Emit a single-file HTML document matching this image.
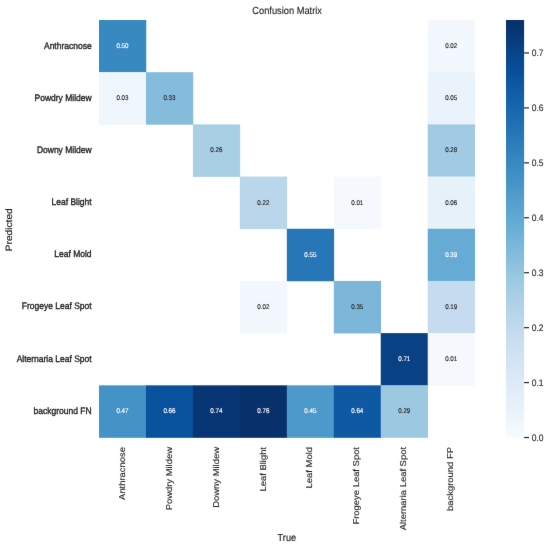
<!DOCTYPE html>
<html><head><meta charset="utf-8"><title>Confusion Matrix</title>
<style>html,body{margin:0;padding:0;background:#fff;}body{width:550px;height:549px;overflow:hidden;}svg{display:block;}</style></head>
<body>
<svg width="550" height="549" viewBox="0 0 550 549" font-family="'Liberation Sans', Arial, sans-serif" fill="#262626" stroke="#262626" stroke-width="0.38" stroke-linejoin="round" text-rendering="geometricPrecision">
<defs><linearGradient id="cb" x1="0" y1="1" x2="0" y2="0">
<stop offset="0.0000" stop-color="#f7fbff"/>
<stop offset="0.0312" stop-color="#f1f7fd"/>
<stop offset="0.0625" stop-color="#eaf3fb"/>
<stop offset="0.0938" stop-color="#e4eff9"/>
<stop offset="0.1250" stop-color="#deebf7"/>
<stop offset="0.1562" stop-color="#d8e7f5"/>
<stop offset="0.1875" stop-color="#d2e3f3"/>
<stop offset="0.2188" stop-color="#ccdff1"/>
<stop offset="0.2500" stop-color="#c6dbef"/>
<stop offset="0.2812" stop-color="#bcd7eb"/>
<stop offset="0.3125" stop-color="#b2d2e8"/>
<stop offset="0.3438" stop-color="#a8cee4"/>
<stop offset="0.3750" stop-color="#9dcae1"/>
<stop offset="0.4062" stop-color="#91c3de"/>
<stop offset="0.4375" stop-color="#84bcdb"/>
<stop offset="0.4688" stop-color="#77b5d9"/>
<stop offset="0.5000" stop-color="#6aaed6"/>
<stop offset="0.5312" stop-color="#60a7d2"/>
<stop offset="0.5625" stop-color="#56a0ce"/>
<stop offset="0.5938" stop-color="#4b98ca"/>
<stop offset="0.6250" stop-color="#4191c6"/>
<stop offset="0.6562" stop-color="#3989c1"/>
<stop offset="0.6875" stop-color="#3181bd"/>
<stop offset="0.7188" stop-color="#2979b9"/>
<stop offset="0.7500" stop-color="#2070b4"/>
<stop offset="0.7812" stop-color="#1a68ae"/>
<stop offset="0.8125" stop-color="#1460a8"/>
<stop offset="0.8438" stop-color="#0e58a2"/>
<stop offset="0.8750" stop-color="#08509b"/>
<stop offset="0.9062" stop-color="#08488e"/>
<stop offset="0.9375" stop-color="#084082"/>
<stop offset="0.9688" stop-color="#083776"/>
<stop offset="1.0000" stop-color="#08306b"/>
</linearGradient>
<filter id="soft" x="0" y="0" width="550" height="549" filterUnits="userSpaceOnUse" primitiveUnits="userSpaceOnUse" color-interpolation-filters="sRGB"><feConvolveMatrix order="3" kernelMatrix="0.00276 0.04704 0.00276 0.04704 0.80077 0.04704 0.00276 0.04704 0.00276" edgeMode="duplicate" preserveAlpha="true"/></filter></defs>
<g filter="url(#soft)">
<rect stroke="none" x="0" y="0" width="550" height="549" fill="#ffffff"/>
<rect stroke="none" x="99.00" y="20.00" width="47.26" height="52.49" fill="#3989c1"/>
<rect stroke="none" x="427.72" y="20.00" width="47.26" height="52.49" fill="#f2f8fd"/>
<rect stroke="none" x="99.00" y="72.19" width="47.26" height="52.49" fill="#eff6fc"/>
<rect stroke="none" x="145.96" y="72.19" width="47.26" height="52.49" fill="#85bcdc"/>
<rect stroke="none" x="427.72" y="72.19" width="47.26" height="52.49" fill="#eaf3fb"/>
<rect stroke="none" x="192.92" y="124.38" width="47.26" height="52.49" fill="#a9cfe5"/>
<rect stroke="none" x="427.72" y="124.38" width="47.26" height="52.49" fill="#a0cbe2"/>
<rect stroke="none" x="239.88" y="176.57" width="47.26" height="52.49" fill="#b9d6ea"/>
<rect stroke="none" x="333.80" y="176.57" width="47.26" height="52.49" fill="#f5f9fe"/>
<rect stroke="none" x="427.72" y="176.57" width="47.26" height="52.49" fill="#e7f1fa"/>
<rect stroke="none" x="286.84" y="228.76" width="47.26" height="52.49" fill="#2777b8"/>
<rect stroke="none" x="427.72" y="228.76" width="47.26" height="52.49" fill="#66abd4"/>
<rect stroke="none" x="239.88" y="280.95" width="47.26" height="52.49" fill="#f2f8fd"/>
<rect stroke="none" x="333.80" y="280.95" width="47.26" height="52.49" fill="#7cb7da"/>
<rect stroke="none" x="427.72" y="280.95" width="47.26" height="52.49" fill="#c6dbef"/>
<rect stroke="none" x="380.76" y="333.14" width="47.26" height="52.49" fill="#084184"/>
<rect stroke="none" x="427.72" y="333.14" width="47.26" height="52.49" fill="#f5f9fe"/>
<rect stroke="none" x="99.00" y="385.33" width="47.26" height="52.49" fill="#4493c7"/>
<rect stroke="none" x="145.96" y="385.33" width="47.26" height="52.49" fill="#09529d"/>
<rect stroke="none" x="192.92" y="385.33" width="47.26" height="52.49" fill="#083674"/>
<rect stroke="none" x="239.88" y="385.33" width="47.26" height="52.49" fill="#08306b"/>
<rect stroke="none" x="286.84" y="385.33" width="47.26" height="52.49" fill="#4d99ca"/>
<rect stroke="none" x="333.80" y="385.33" width="47.26" height="52.49" fill="#0e59a2"/>
<rect stroke="none" x="380.76" y="385.33" width="47.26" height="52.49" fill="#9cc9e1"/>
<text transform="translate(122.48,48.10) scale(0.900,1)" font-size="6.90" text-anchor="middle" fill="#ffffff" stroke="#ffffff" stroke-width="0.15">0.50</text>
<text transform="translate(451.20,48.10) scale(0.900,1)" font-size="6.90" text-anchor="middle" fill="#262626" stroke="#262626" stroke-width="0.15">0.02</text>
<text transform="translate(122.48,100.29) scale(0.900,1)" font-size="6.90" text-anchor="middle" fill="#262626" stroke="#262626" stroke-width="0.15">0.03</text>
<text transform="translate(169.44,100.29) scale(0.900,1)" font-size="6.90" text-anchor="middle" fill="#262626" stroke="#262626" stroke-width="0.15">0.33</text>
<text transform="translate(451.20,100.29) scale(0.900,1)" font-size="6.90" text-anchor="middle" fill="#262626" stroke="#262626" stroke-width="0.15">0.05</text>
<text transform="translate(216.40,152.48) scale(0.900,1)" font-size="6.90" text-anchor="middle" fill="#262626" stroke="#262626" stroke-width="0.15">0.26</text>
<text transform="translate(451.20,152.48) scale(0.900,1)" font-size="6.90" text-anchor="middle" fill="#262626" stroke="#262626" stroke-width="0.15">0.28</text>
<text transform="translate(263.36,204.67) scale(0.900,1)" font-size="6.90" text-anchor="middle" fill="#262626" stroke="#262626" stroke-width="0.15">0.22</text>
<text transform="translate(357.28,204.67) scale(0.900,1)" font-size="6.90" text-anchor="middle" fill="#262626" stroke="#262626" stroke-width="0.15">0.01</text>
<text transform="translate(451.20,204.67) scale(0.900,1)" font-size="6.90" text-anchor="middle" fill="#262626" stroke="#262626" stroke-width="0.15">0.06</text>
<text transform="translate(310.32,256.86) scale(0.900,1)" font-size="6.90" text-anchor="middle" fill="#ffffff" stroke="#ffffff" stroke-width="0.15">0.55</text>
<text transform="translate(451.20,256.86) scale(0.900,1)" font-size="6.90" text-anchor="middle" fill="#ffffff" stroke="#ffffff" stroke-width="0.15">0.39</text>
<text transform="translate(263.36,309.05) scale(0.900,1)" font-size="6.90" text-anchor="middle" fill="#262626" stroke="#262626" stroke-width="0.15">0.02</text>
<text transform="translate(357.28,309.05) scale(0.900,1)" font-size="6.90" text-anchor="middle" fill="#262626" stroke="#262626" stroke-width="0.15">0.35</text>
<text transform="translate(451.20,309.05) scale(0.900,1)" font-size="6.90" text-anchor="middle" fill="#262626" stroke="#262626" stroke-width="0.15">0.19</text>
<text transform="translate(404.24,361.24) scale(0.900,1)" font-size="6.90" text-anchor="middle" fill="#ffffff" stroke="#ffffff" stroke-width="0.15">0.71</text>
<text transform="translate(451.20,361.24) scale(0.900,1)" font-size="6.90" text-anchor="middle" fill="#262626" stroke="#262626" stroke-width="0.15">0.01</text>
<text transform="translate(122.48,413.43) scale(0.900,1)" font-size="6.90" text-anchor="middle" fill="#ffffff" stroke="#ffffff" stroke-width="0.15">0.47</text>
<text transform="translate(169.44,413.43) scale(0.900,1)" font-size="6.90" text-anchor="middle" fill="#ffffff" stroke="#ffffff" stroke-width="0.15">0.66</text>
<text transform="translate(216.40,413.43) scale(0.900,1)" font-size="6.90" text-anchor="middle" fill="#ffffff" stroke="#ffffff" stroke-width="0.15">0.74</text>
<text transform="translate(263.36,413.43) scale(0.900,1)" font-size="6.90" text-anchor="middle" fill="#ffffff" stroke="#ffffff" stroke-width="0.15">0.76</text>
<text transform="translate(310.32,413.43) scale(0.900,1)" font-size="6.90" text-anchor="middle" fill="#ffffff" stroke="#ffffff" stroke-width="0.15">0.45</text>
<text transform="translate(357.28,413.43) scale(0.900,1)" font-size="6.90" text-anchor="middle" fill="#ffffff" stroke="#ffffff" stroke-width="0.15">0.64</text>
<text transform="translate(404.24,413.43) scale(0.900,1)" font-size="6.90" text-anchor="middle" fill="#262626" stroke="#262626" stroke-width="0.15">0.29</text>
<text transform="translate(91.60,48.50) scale(0.900,1)" font-size="9.43" text-anchor="end">Anthracnose</text>
<text transform="translate(91.60,100.69) scale(0.900,1)" font-size="9.43" text-anchor="end">Powdry Mildew</text>
<text transform="translate(91.60,152.88) scale(0.900,1)" font-size="9.43" text-anchor="end">Downy Mildew</text>
<text transform="translate(91.60,205.07) scale(0.900,1)" font-size="9.43" text-anchor="end">Leaf Blight</text>
<text transform="translate(91.60,257.26) scale(0.900,1)" font-size="9.43" text-anchor="end">Leaf Mold</text>
<text transform="translate(91.60,309.45) scale(0.900,1)" font-size="9.43" text-anchor="end">Frogeye Leaf Spot</text>
<text transform="translate(91.60,361.64) scale(0.900,1)" font-size="9.43" text-anchor="end">Alternaria Leaf Spot</text>
<text transform="translate(91.60,413.83) scale(0.900,1)" font-size="9.43" text-anchor="end">background FN</text>
<text transform="translate(124.64,447.00) scale(0.900,1) rotate(-90)" font-size="9.43" text-anchor="end" stroke-width="0.15">Anthracnose</text>
<text transform="translate(171.60,447.00) scale(0.900,1) rotate(-90)" font-size="9.43" text-anchor="end" stroke-width="0.15">Powdry Mildew</text>
<text transform="translate(218.56,447.00) scale(0.900,1) rotate(-90)" font-size="9.43" text-anchor="end" stroke-width="0.15">Downy Mildew</text>
<text transform="translate(265.52,447.00) scale(0.900,1) rotate(-90)" font-size="9.43" text-anchor="end" stroke-width="0.15">Leaf Blight</text>
<text transform="translate(312.48,447.00) scale(0.900,1) rotate(-90)" font-size="9.43" text-anchor="end" stroke-width="0.15">Leaf Mold</text>
<text transform="translate(359.44,447.00) scale(0.900,1) rotate(-90)" font-size="9.43" text-anchor="end" stroke-width="0.15">Frogeye Leaf Spot</text>
<text transform="translate(406.40,447.00) scale(0.900,1) rotate(-90)" font-size="9.43" text-anchor="end" stroke-width="0.15">Alternaria Leaf Spot</text>
<text transform="translate(453.36,447.00) scale(0.900,1) rotate(-90)" font-size="9.43" text-anchor="end" stroke-width="0.15">background FP</text>
<text transform="translate(287.14,14.30) scale(0.900,1)" font-size="10.32" text-anchor="middle" stroke-width="0.15">Confusion Matrix</text>
<text transform="translate(286.84,540.80) scale(0.900,1)" font-size="10.17" text-anchor="middle" stroke-width="0.2">True</text>
<text transform="translate(11.70,229.76) scale(0.900,1) rotate(-90)" font-size="10.17" text-anchor="middle" stroke-width="0.2">Predicted</text>
<rect stroke="none" x="506.00" y="20.00" width="18.10" height="417.52" fill="url(#cb)"/>
<rect stroke="none" x="524.10" y="436.92" width="4.9" height="1.2" fill="#262626"/>
<text transform="translate(531.80,440.82) scale(0.900,1)" font-size="9.43" stroke-width="0.12">0.0</text>
<rect stroke="none" x="524.10" y="381.98" width="4.9" height="1.2" fill="#262626"/>
<text transform="translate(531.80,385.88) scale(0.900,1)" font-size="9.43" stroke-width="0.12">0.1</text>
<rect stroke="none" x="524.10" y="327.05" width="4.9" height="1.2" fill="#262626"/>
<text transform="translate(531.80,330.95) scale(0.900,1)" font-size="9.43" stroke-width="0.12">0.2</text>
<rect stroke="none" x="524.10" y="272.11" width="4.9" height="1.2" fill="#262626"/>
<text transform="translate(531.80,276.01) scale(0.900,1)" font-size="9.43" stroke-width="0.12">0.3</text>
<rect stroke="none" x="524.10" y="217.17" width="4.9" height="1.2" fill="#262626"/>
<text transform="translate(531.80,221.07) scale(0.900,1)" font-size="9.43" stroke-width="0.12">0.4</text>
<rect stroke="none" x="524.10" y="162.24" width="4.9" height="1.2" fill="#262626"/>
<text transform="translate(531.80,166.14) scale(0.900,1)" font-size="9.43" stroke-width="0.12">0.5</text>
<rect stroke="none" x="524.10" y="107.30" width="4.9" height="1.2" fill="#262626"/>
<text transform="translate(531.80,111.20) scale(0.900,1)" font-size="9.43" stroke-width="0.12">0.6</text>
<rect stroke="none" x="524.10" y="52.36" width="4.9" height="1.2" fill="#262626"/>
<text transform="translate(531.80,56.26) scale(0.900,1)" font-size="9.43" stroke-width="0.12">0.7</text>
</g></svg>
</body></html>
